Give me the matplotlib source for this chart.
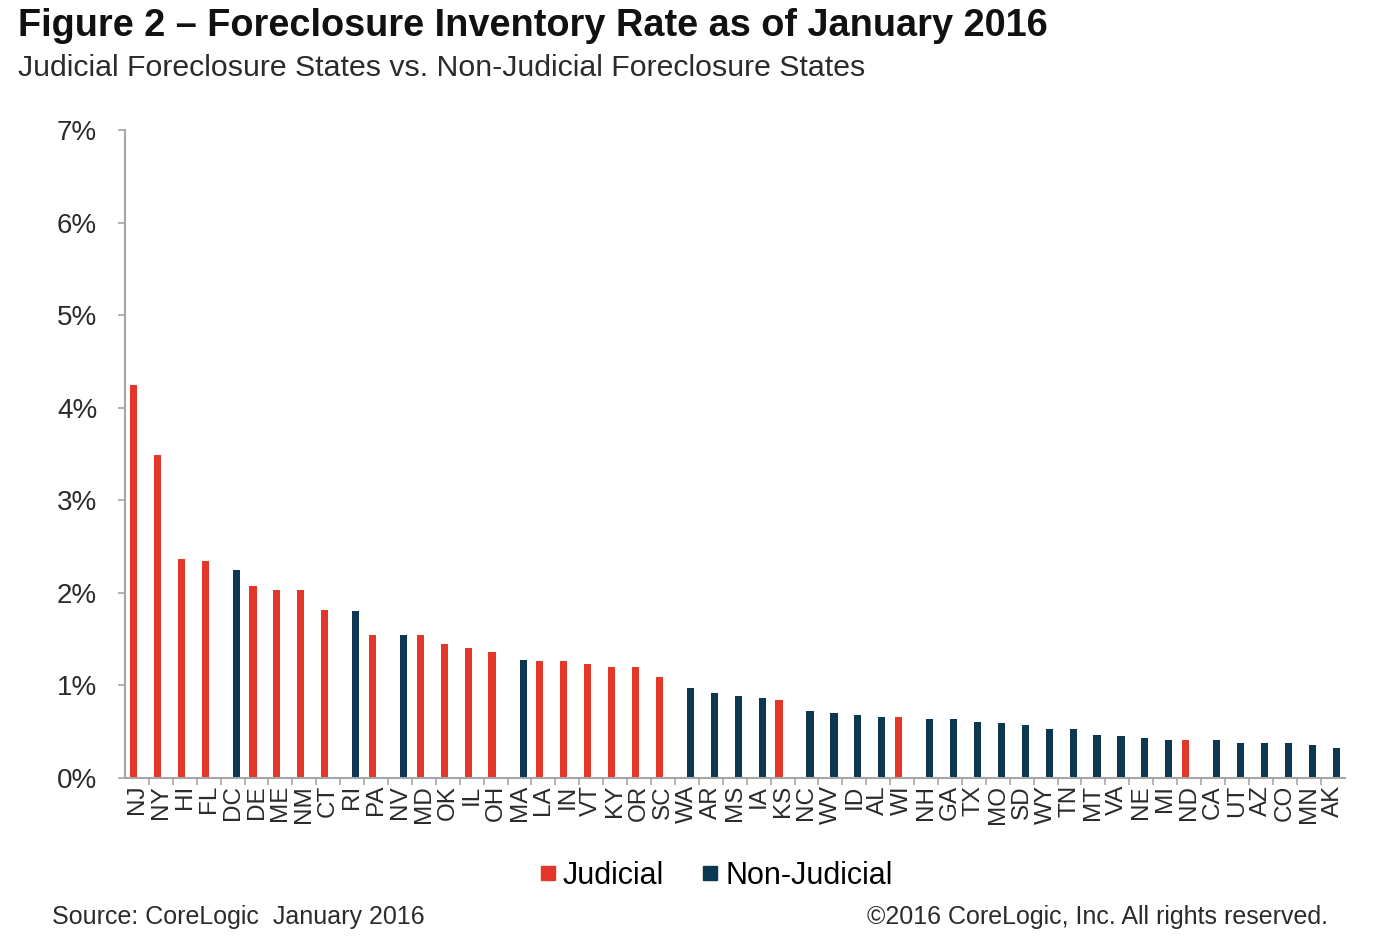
import numpy as np
import matplotlib
matplotlib.use("Agg")
import matplotlib.pyplot as plt
from matplotlib.lines import Line2D
from matplotlib.ticker import FuncFormatter, MultipleLocator

plt.rcParams['font.family'] = ['Liberation Sans', 'DejaVu Sans']

# foreclosure inventory rate (%), January 2016
states = ['NJ', 'NY', 'HI', 'FL', 'DC', 'DE', 'ME', 'NM', 'CT', 'RI',
          'PA', 'NV', 'MD', 'OK', 'IL', 'OH', 'MA', 'LA', 'IN', 'VT',
          'KY', 'OR', 'SC', 'WA', 'AR', 'MS', 'IA', 'KS', 'NC', 'WV',
          'ID', 'AL', 'WI', 'NH', 'GA', 'TX', 'MO', 'SD', 'WY', 'TN',
          'MT', 'VA', 'NE', 'MI', 'ND', 'CA', 'UT', 'AZ', 'CO', 'MN', 'AK']
rates = [4.25, 3.49, 2.37, 2.34, 2.25, 2.07, 2.03, 2.03, 1.82, 1.80,
         1.55, 1.55, 1.55, 1.45, 1.40, 1.36, 1.28, 1.26, 1.26, 1.23,
         1.20, 1.20, 1.09, 0.97, 0.92, 0.89, 0.87, 0.84, 0.72, 0.70,
         0.68, 0.66, 0.66, 0.64, 0.64, 0.61, 0.59, 0.57, 0.53, 0.53,
         0.47, 0.45, 0.43, 0.41, 0.41, 0.41, 0.38, 0.38, 0.38, 0.355, 0.32]
# True = judicial foreclosure state
judicial = [True, True, True, True, False, True, True, True, True, False,
            True, False, True, True, True, True, False, True, True, True,
            True, True, True, False, False, False, False, True, False, False,
            False, False, True, False, False, False, False, False, False, False,
            False, False, False, False, True, False, False, False, False, False, False]

RED = '#E5362A'
NAVY = '#0B3850'
GREY = '#A6A6A6'

x = np.arange(len(states))
vals = np.array(rates)
jud = np.array(judicial)

fig = plt.figure(figsize=(13.78, 9.5), dpi=100)
ax = fig.add_axes([0.0907, 0.181, 0.885, 0.682])

w = 0.3
ax.bar(x[jud] - w / 2, vals[jud], width=w, color=RED, label='Judicial')
ax.bar(x[~jud] + w / 2, vals[~jud], width=w, color=NAVY, label='Non-Judicial')

ax.set_xlim(-0.5, len(states) - 0.5)
ax.set_ylim(0, 7)
ax.yaxis.set_major_locator(MultipleLocator(1))
ax.yaxis.set_major_formatter(FuncFormatter(lambda v, p: '%d%%' % v))

ax.set_xticks(x)
ax.set_xticklabels(states, rotation=90, fontsize=17.5, color='#2b2b2b')
ax.set_xticks(x[:-1] + 0.5, minor=True)
ax.tick_params(axis='x', which='major', length=0, pad=5)
ax.tick_params(axis='x', which='minor', length=5, width=1.2, color=GREY)
ax.tick_params(axis='y', length=5, width=1.2, color=GREY, labelsize=20,
               labelcolor='#2b2b2b', pad=15)

for s in ['top', 'right']:
    ax.spines[s].set_visible(False)
for s in ['left', 'bottom']:
    ax.spines[s].set_color(GREY)
    ax.spines[s].set_linewidth(1.5)

fig.text(0.013, 0.992, 'Figure 2 \u2013 Foreclosure Inventory Rate as of January 2016',
         fontsize=27.3, fontweight='bold', va='top', ha='left', color='#111111')
fig.text(0.013, 0.928, 'Judicial Foreclosure States vs. Non-Judicial Foreclosure States',
         fontsize=21.8, va='center', ha='left', color='#2b2b2b')

handles = [Line2D([], [], marker='s', ls='', color=RED, markersize=10),
           Line2D([], [], marker='s', ls='', color=NAVY, markersize=10)]
fig.legend(handles, ['Judicial', 'Non-Judicial'], loc='center', ncol=2,
           bbox_to_anchor=(0.517, 0.078), frameon=False, fontsize=22,
           handletextpad=0.0, columnspacing=1.0, handlelength=1.0)

fig.text(0.038, 0.035, 'Source: CoreLogic  January 2016', fontsize=18,
         va='center', ha='left', color='#2b2b2b')
fig.text(0.964, 0.035, '\u00a92016 CoreLogic, Inc. All rights reserved.', fontsize=18,
         va='center', ha='right', color='#2b2b2b')

fig.savefig('out.png', dpi=100)
